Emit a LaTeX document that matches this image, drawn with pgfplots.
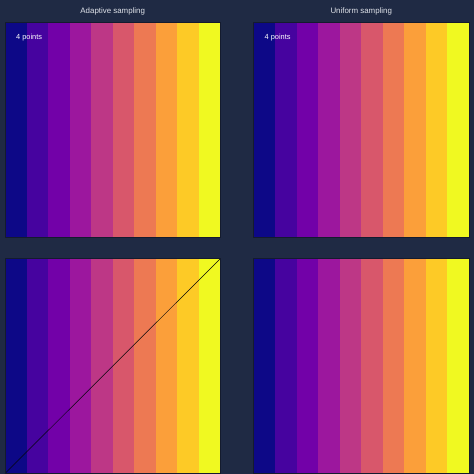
\documentclass[border=0pt]{standalone}
\usepackage{fontspec}
\setmainfont{Liberation Sans}
\usepackage{pgfplots}
\pgfplotsset{compat=1.18}
\definecolor{bg}{HTML}{1F2A44}
\definecolor{edge}{HTML}{141B2E}
\definecolor{titlec}{HTML}{E0E3EA}
\definecolor{p0}{HTML}{0D0887}
\definecolor{p1}{HTML}{46039F}
\definecolor{p2}{HTML}{7201A8}
\definecolor{p3}{HTML}{9C179E}
\definecolor{p4}{HTML}{BD3786}
\definecolor{p5}{HTML}{D8576B}
\definecolor{p6}{HTML}{ED7953}
\definecolor{p7}{HTML}{FB9F3A}
\definecolor{p8}{HTML}{FDCA26}
\definecolor{p9}{HTML}{F0F921}
\newcommand{\stripes}{%
\addplot[fill=p0,draw=none] coordinates {(0,0) (1,0) (1,1) (0,1)} -- cycle;
\addplot[fill=p1,draw=none] coordinates {(1,0) (2,0) (2,1) (1,1)} -- cycle;
\addplot[fill=p2,draw=none] coordinates {(2,0) (3,0) (3,1) (2,1)} -- cycle;
\addplot[fill=p3,draw=none] coordinates {(3,0) (4,0) (4,1) (3,1)} -- cycle;
\addplot[fill=p4,draw=none] coordinates {(4,0) (5,0) (5,1) (4,1)} -- cycle;
\addplot[fill=p5,draw=none] coordinates {(5,0) (6,0) (6,1) (5,1)} -- cycle;
\addplot[fill=p6,draw=none] coordinates {(6,0) (7,0) (7,1) (6,1)} -- cycle;
\addplot[fill=p7,draw=none] coordinates {(7,0) (8,0) (8,1) (7,1)} -- cycle;
\addplot[fill=p8,draw=none] coordinates {(8,0) (9,0) (9,1) (8,1)} -- cycle;
\addplot[fill=p9,draw=none] coordinates {(9,0) (10,0) (10,1) (9,1)} -- cycle;
}
\colorlet{titlecol}{titlec}
\pgfplotsset{panel/.style={scale only axis, width=215.5pt, height=215pt,
  xmin=0, xmax=10, ymin=0, ymax=1, ticks=none, axis on top,
  axis line style={draw=edge, line width=0.5pt},
  title style={font=\fontsize{7.9}{9}\selectfont, text=titlecol, at={(0.5,1)}, anchor=base, yshift=3pt},
  anchor=south west}}
\newcommand{\npoints}{\node[anchor=base west, text=white!92!titlec, font=\fontsize{7.4}{8}\selectfont, inner sep=0pt] at ([xshift=11pt,yshift=-16.8pt]rel axis cs:0,1) {4 points};}
\begin{document}
\begin{tikzpicture}
\useasboundingbox (0,0) rectangle (474pt,474pt);
\fill[bg] (0,0) rectangle (474pt,474pt);
\begin{axis}[panel, at={(5pt,236.3pt)}, title={Adaptive sampling}]
\stripes
\npoints
\end{axis}
\begin{axis}[panel, at={(253.5pt,236.3pt)}, title={Uniform sampling}]
\stripes
\npoints
\end{axis}
\begin{axis}[panel, at={(5pt,0.5pt)}]
\stripes
\addplot[black!85!bg, line width=0.5pt] coordinates {(0,0) (10,1)};
\end{axis}
\begin{axis}[panel, at={(253.5pt,0.5pt)}]
\stripes
\end{axis}
\end{tikzpicture}
\end{document}
